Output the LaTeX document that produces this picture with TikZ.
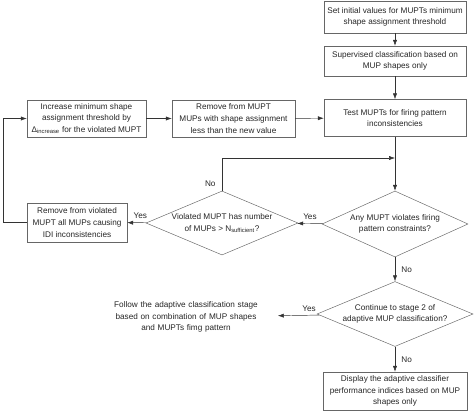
\documentclass[tikz,border=0pt]{standalone}
\usepackage{fontspec}
\setmainfont{Liberation Sans}
\usetikzlibrary{arrows.meta,shapes.geometric}
\tikzset{
  every picture/.style={draw=black!75, text=black!85},
}

\begin{document}
\begin{tikzpicture}[x=0.03cm, y=-0.03cm,
  every node/.style={font=\fontsize{7}{10}\selectfont, align=center},
  stepbox/.style={draw=black!60, rectangle, inner sep=0pt},
  choice/.style={draw=black!60, diamond, aspect=2.3, inner sep=0pt},
  flow/.style={draw=black!80, -{Latex[length=5pt,width=3.5pt]}}]
\useasboundingbox (0,0) rectangle (474,412);
% Right column of steps
\node[stepbox, minimum width=4.26cm, minimum height=0.96cm] (init) at (395,17)
  {Set initial values for MUPTs minimum\\shape assignment threshold};
\node[stepbox, minimum width=4.26cm, minimum height=0.9cm] (superv) at (395,61)
  {Supervised classification based on\\MUP shapes only};
\node[stepbox, minimum width=4.26cm, minimum height=1.11cm] (test) at (395,118)
  {Test MUPTs for firing pattern\\inconsistencies};
% Threshold update row
\node[stepbox, minimum width=3.57cm, minimum height=1.11cm] (incr) at (86.5,118.5)
  {Increase minimum shape\\assignment threshold by\\Δ\textsubscript{increase} for the violated MUPT};
\node[stepbox, minimum width=3.69cm, minimum height=1.11cm] (remove) at (233.5,118.5)
  {Remove from MUPT\\MUPs with shape assignment\\less than the new value};
% Decisions
\node[choice, minimum width=4.38cm, minimum height=1.98cm] (any) at (395,224)
  {Any MUPT violates firing\\pattern constraints?};
\node[choice, minimum width=4.56cm, minimum height=1.92cm] (viol) at (222,223)
  {Violated MUPT has number\\of MUPs > N\textsubscript{sufficient}?};
\node[stepbox, minimum width=3cm, minimum height=1.17cm] (rmviol) at (77,222.5)
  {Remove from violated\\MUPT all MUPs causing\\IDI inconsistencies};
\node[choice, minimum width=4.68cm, minimum height=1.86cm] (cont) at (395,314)
  {Continue to stage 2 of\\adaptive MUP classification?};
\node[text width=5.1cm, inner sep=0.2cm] (follow) at (186,317)
  {Follow the adaptive classification stage\\based on combination of MUP shapes\\and MUPTs fimg pattern};
\node[stepbox, minimum width=4.32cm, minimum height=1.14cm] (disp) at (395,391)
  {Display the adaptive classifier\\performance indices based on MUP\\shapes only};
% Bend points
\coordinate (join) at (395,158);
\coordinate (lft) at (3,118.5);
% Connectors
\draw[flow] (init) -- (superv);
\draw[flow] (superv) -- (test);
\draw[flow] (test) -- (any);
\draw[flow] (viol.north) |- node[pos=0.1, left, xshift=-2pt] {No} (join);
\draw[flow] (any) -- node[above] {Yes} (viol);
\draw[flow] (viol) -- node[above, xshift=3pt] {Yes} (rmviol);
\draw[flow] (rmviol.west) -| (lft) -- (incr.west);
\draw[flow] (incr) -- (remove);
\draw[flow] (remove) -- (test);
\draw[flow] (any) -- node[right, xshift=2pt] {No} (cont);
\draw[flow] (cont) -- node[above, pos=0.25] {Yes} (follow);
\draw[flow] (cont) -- node[right, xshift=2pt] {No} (disp);
\end{tikzpicture}
\end{document}
